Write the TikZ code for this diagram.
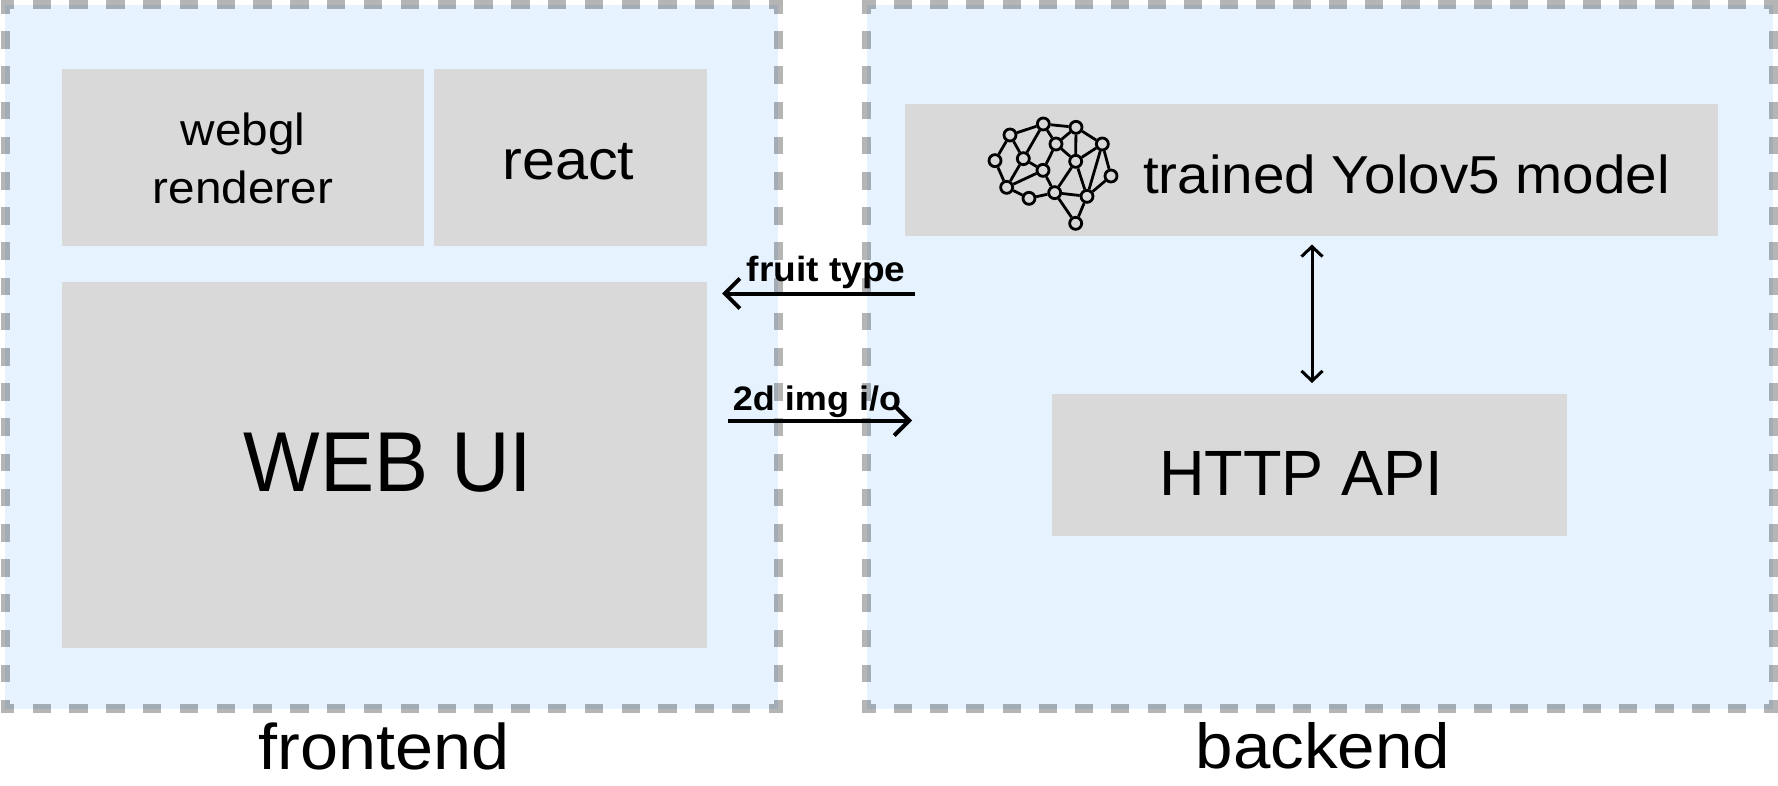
\documentclass[tikz,border=0pt]{standalone}
\usepackage{fontspec}
\setmainfont[FakeStretch=1.06]{Liberation Sans}
\usetikzlibrary{arrows.meta,positioning}
\definecolor{panelfill}{HTML}{E6F3FF}
\definecolor{boxfill}{HTML}{D9D9D9}
\newcommand{\fs}[1]{\fontsize{#1pt}{#1pt}\selectfont}
\newcommand{\hs}[2]{\scalebox{#1}[1]{#2}}
\newcommand{\panelframe}[3]{%
  \pgfmathsetmacro{\hon}{#2/2}\pgfmathsetmacro{\von}{#3/2}%
  \pgfmathsetmacro{\hph}{\hon/2-4.5}\pgfmathsetmacro{\vph}{\von/2+4.5}%
  \draw[framestroke,dash pattern=on \hon pt off \hon pt,dash phase=\hph pt]
    ([xshift=-4.5pt]#1.north west) -- ([xshift=4.5pt]#1.north east);
  \draw[framestroke,dash pattern=on \hon pt off \hon pt,dash phase=\hph pt]
    ([xshift=-4.5pt]#1.south west) -- ([xshift=4.5pt]#1.south east);
  \draw[framestroke,dash pattern=on \von pt off \von pt,dash phase=\vph pt]
    ([yshift=-4.5pt]#1.north west) -- ([yshift=4.5pt]#1.south west);
  \draw[framestroke,dash pattern=on \von pt off \von pt,dash phase=\vph pt]
    ([yshift=-4.5pt]#1.north east) -- ([yshift=4.5pt]#1.south east);
}
\tikzset{
  panel/.style={fill=panelfill,inner sep=0pt,outer sep=0pt,minimum width=#1,minimum height=704.1pt,anchor=north west},
  framestroke/.style={draw=black,draw opacity=0.29,line width=9pt},
  graybox/.style={fill=boxfill,inner sep=0pt,outer sep=0pt,anchor=north west},
  lbl/.style={inner sep=0pt,text=black,align=center},
  flow/.style={line width=4pt,-{Straight Barb[length=15pt,width=30pt,line width=4pt]}},
  link/.style={line width=3pt,{Straight Barb[length=10pt,width=21pt,line width=3pt]}-{Straight Barb[length=10pt,width=21pt,line width=3pt]}},
  dot/.style={circle,draw=black,fill=boxfill,line width=2.8pt,inner sep=0pt,minimum size=12pt},
  nerve/.style={line width=2.8pt,draw=black},
}
\begin{document}
\begin{tikzpicture}[x=1pt,y=-1pt]
\useasboundingbox (0,0) rectangle (1778,785);
% panels
\node[panel=773pt] (front) at (5,4.7) {};
\node[panel=906.8pt] (back) at (866.5,4.7) {};
\panelframe{front}{36.81}{35.2}
\panelframe{back}{36.27}{35.2}
% boxes
\node[graybox,minimum width=362pt,minimum height=177pt] (webgl) at (62,69) {};
\node[graybox,minimum width=273pt,minimum height=177pt] (react) at (434,69) {};
\node[graybox,minimum width=645pt,minimum height=366pt] (webui) at (62,282) {};
\node[graybox,minimum width=813pt,minimum height=132pt] (yolo) at (905,104) {};
\node[graybox,minimum width=515pt,minimum height=142pt] (http) at (1052,394) {};
% box labels
\node[lbl,font=\fs{45},text height=33pt] (twebgl) at (243,134) {webgl};
\node[lbl,font=\fs{45},text height=33pt] (trend) at (243,187) {renderer};
\node[lbl] (treact) at (568.5,162) {\fs{56}react};
\node[lbl] (twebui) at (388,463) {\fs{85}\hs{0.9}{WEB UI}};
\node[lbl] (thttp) at (1301,473) {\fs{64}\hs{0.93}{HTTP API}};
\node[lbl] (tyolo) at (1406.5,174) {\fs{53.4}trained Yolov5 model};
\node[lbl] (tfront) at (384,746) {\fs{64.5}frontend};
\node[lbl] (tback) at (1323,746) {\fs{63.5}backend};
% brain icon
\begin{scope}[shift={(960,90)},x=0.3333pt,y=-0.3333pt]
\foreach \n/\px/\py in {a/150/135,b/250/102,c/348/112,d/427/162,e/453/258,f/381/319,g/347/400,h/284/308,i/207/325,j/140/292,k/105/212,l/190/206,m/249/241,o/288/162,p/347/214}
  \node[dot] (\n) at (\px,\py) {};
\foreach \s/\t in {a/b,b/c,c/d,d/e,e/f,f/g,g/h,h/f,h/i,i/j,j/k,k/a,a/l,l/b,l/j,l/m,m/j,m/h,m/o,o/b,o/c,o/p,c/p,p/d,p/h,p/f,d/f}
  \draw[nerve] (\s) -- (\t);
\end{scope}
% flows
\coordinate (fa) at (915,293.5);
\coordinate (fb) at (722,293.5);
\coordinate (ia) at (728,420.5);
\coordinate (ib) at (912,420.5);
\coordinate (la) at (1312,244.5);
\coordinate (lb) at (1312,383);
\draw[flow] (fa) -- (fb);
\draw[flow] (ia) -- (ib);
\draw[link] (la) -- (lb);
\node[lbl,font=\bfseries] (tfruit) at (826,272) {\fs{35}fruit type};
\node[lbl,font=\bfseries] (timg) at (817,402) {\fs{34}2d img i/o};
\end{tikzpicture}
\end{document}
